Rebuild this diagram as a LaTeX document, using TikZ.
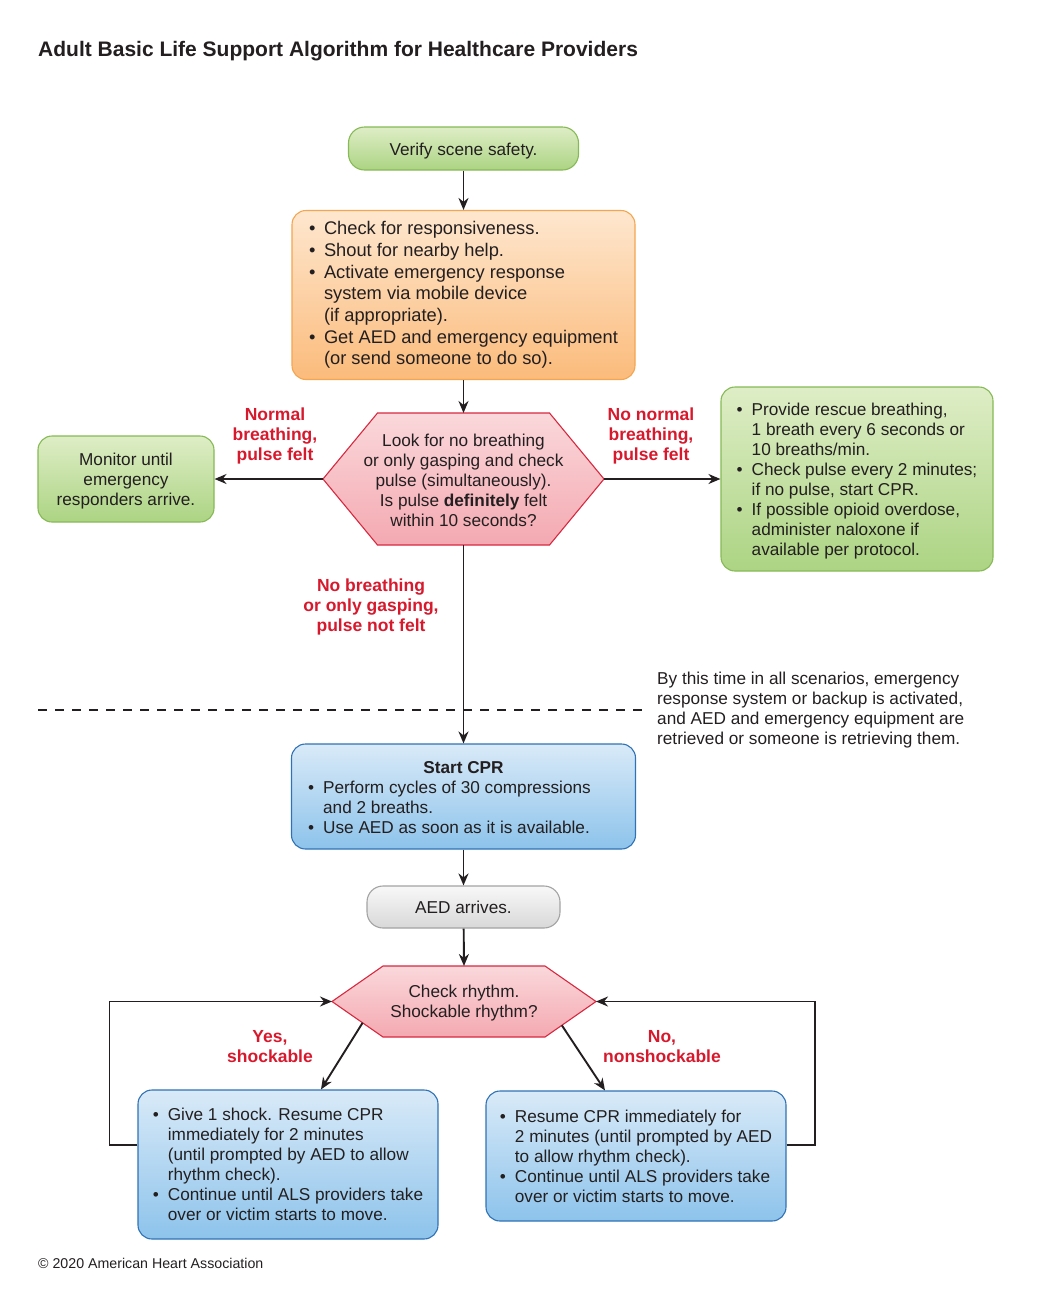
\documentclass[tikz,border=0pt]{standalone}
\usepackage{fontspec}
\setmainfont{Liberation Sans}
\usepackage{xcolor}
\usetikzlibrary{arrows.meta,calc,backgrounds}
\definecolor{ahatext}{HTML}{231F20}
\definecolor{ahared}{HTML}{D7192D}
\definecolor{ahagreentop}{HTML}{DEEDC6}
\definecolor{ahagreenbot}{HTML}{ACD483}
\definecolor{ahagreenline}{HTML}{86BA55}
\definecolor{ahaorangetop}{HTML}{FEE7CF}
\definecolor{ahaorangebot}{HTML}{FBBB7B}
\definecolor{ahaorangeline}{HTML}{F4A550}
\definecolor{ahapinktop}{HTML}{FAD8DB}
\definecolor{ahapinkbot}{HTML}{F4A9B1}
\definecolor{ahapinkline}{HTML}{D8283F}
\definecolor{ahabluetop}{HTML}{D9EAF8}
\definecolor{ahabluebot}{HTML}{8DC3EB}
\definecolor{ahablueline}{HTML}{2F72B6}
\definecolor{ahagreytop}{HTML}{F8F8F8}
\definecolor{ahagreybot}{HTML}{D8D8D8}
\definecolor{ahagreyline}{HTML}{A3A3A3}
\newcommand{\bodyfont}{\fontsize{17.2}{20}\selectfont}
\newcommand{\bitem}{\makebox[15pt][l]{\textbullet}}
\newcommand{\bcont}{\hspace*{15pt}}
\newcommand{\lowered}[2][2.5pt]{\raisebox{-#1}[\height][\depth]{#2}}

\begin{document}
\begin{tikzpicture}[x=1pt, y=-1pt,
    box/.style={draw, rounded corners=14pt, line width=1.1pt, text=ahatext,
                align=center, font=\bodyfont, inner sep=0pt},
    greenbox/.style={box, draw=ahagreenline, top color=ahagreentop, bottom color=ahagreenbot},
    orangebox/.style={box, draw=ahaorangeline, top color=ahaorangetop, bottom color=ahaorangebot},
    bluebox/.style={box, draw=ahablueline, top color=ahabluetop, bottom color=ahabluebot},
    greybox/.style={box, draw=ahagreyline, top color=ahagreytop, bottom color=ahagreybot},
    hextext/.style={text=ahatext, align=center, font=\bodyfont, inner sep=0pt},
    hexbox/.style={draw=ahapinkline, line width=1.1pt, top color=ahapinktop, bottom color=ahapinkbot},
    lbl/.style={text=ahared, align=center, font=\fontsize{17.5}{20}\selectfont\bfseries},
    arr/.style={-{Stealth[length=12pt,width=10pt]}, line width=1.9pt, draw=ahatext},
]
\useasboundingbox (0,0) rectangle (1038,1315);

\node[anchor=west, text=ahatext, inner sep=0pt, font=\fontsize{21}{25}\selectfont\bfseries] (title) at (38,51)
    {Adult Basic Life Support Algorithm for Healthcare Providers};

% top column
\node[greenbox, minimum width=230pt, minimum height=43pt, rounded corners=16pt] (verify) at (463.5,148.5)
    {\lowered{Verify scene safety.}};
\node[orangebox, minimum width=343pt, minimum height=169pt, align=left,
      font=\fontsize{18.3}{21.7}\selectfont] (checks) at (463.5,295)
    {\bitem Check for responsiveness.\\
     \bitem Shout for nearby help.\\
     \bitem Activate emergency response\\
     \bcont system via mobile device\\
     \bcont (if appropriate).\\
     \bitem Get AED and emergency equipment\\
     \bcont (or send someone to do so).};

\node[hextext] (look) at (463.5,480)
    {Look for no breathing\\or only gasping and check\\pulse (simultaneously).\\
     Is pulse \textbf{definitely} felt\\within 10 seconds?};
\coordinate (lookL) at ($(look.center)+(-140.5,-1)$);
\coordinate (lookR) at ($(look.center)+(140.5,-1)$);
\coordinate (lookT) at ($(look.center)+(0,-67)$);
\coordinate (lookB) at ($(look.center)+(0,65)$);
\begin{scope}[on background layer]
\draw[hexbox] ($(lookT)+(-86,0)$) -- ($(lookT)+(86,0)$) -- (lookR) -- ($(lookB)+(86,0)$)
    -- ($(lookB)+(-86,0)$) -- (lookL) -- cycle;
\end{scope}

% side branches
\node[greenbox, minimum width=176pt, minimum height=86pt] (monitor) at (126,479)
    {\lowered{\begin{tabular}{@{}c@{}}Monitor until\\emergency\\responders arrive.\end{tabular}}};
\node[greenbox, minimum width=272pt, minimum height=184pt] (rescue) at (857,479)
    {\lowered{\begin{tabular}{@{}l@{}}
     \bitem Provide rescue breathing,\\
     \bcont 1 breath every 6 seconds or\\
     \bcont 10 breaths/min.\\
     \bitem Check pulse every 2 minutes;\\
     \bcont if no pulse, start CPR.\\
     \bitem If possible opioid overdose,\\
     \bcont administer naloxone if\\
     \bcont available per protocol.
     \end{tabular}}};

\node[lbl] (normal) at (275,436) {Normal\\breathing,\\pulse felt};
\node[lbl] (nonormal) at (651,436) {No normal\\breathing,\\pulse felt};
\node[lbl] (nobreath) at (371,607) {No breathing\\or only gasping,\\pulse not felt};

\draw[dashed, line width=1.3pt, draw=ahatext, dash pattern=on 9pt off 8pt] (38,710) -- (645,710);
\node[anchor=west, text=ahatext, align=left, inner sep=0pt, font=\bodyfont] (note) at (657,710.5)
    {By this time in all scenarios, emergency\\response system or backup is activated,\\
     and AED and emergency equipment are\\retrieved or someone is retrieving them.};

% CPR and AED
\node[bluebox, minimum width=344pt, minimum height=105pt] (cpr) at (463.5,796.5)
    {\lowered[3pt]{\begin{tabular}{@{}l@{\hspace{28pt}}}
     \multicolumn{1}{@{}c@{}}{\textbf{Start CPR}}\\
     \bitem Perform cycles of 30 compressions\\
     \bcont and 2 breaths.\\
     \bitem Use AED as soon as it is available.
     \end{tabular}}};
\node[greybox, minimum width=193pt, minimum height=42pt, rounded corners=16pt] (aed) at (463.5,907)
    {AED arrives.};

\node[hextext] (rhythm) at (464,1003)
    {Check rhythm.\\Shockable rhythm?};
\coordinate (rhythmL) at ($(rhythm.center)+(-132,-1.5)$);
\coordinate (rhythmR) at ($(rhythm.center)+(132,-1.5)$);
\coordinate (rhythmT) at ($(rhythm.center)+(0,-37)$);
\coordinate (rhythmB) at ($(rhythm.center)+(0,34)$);
\begin{scope}[on background layer]
\draw[hexbox] ($(rhythmT)+(-81,0)$) -- ($(rhythmT)+(81,0)$) -- (rhythmR) -- ($(rhythmB)+(81,0)$)
    -- ($(rhythmB)+(-81,0)$) -- (rhythmL) -- cycle;
\end{scope}

\node[bluebox, minimum width=300pt, minimum height=149pt, align=left] (shock) at (288,1164.5)
    {\bitem Give 1 shock. Resume CPR\\
     \bcont immediately for 2 minutes\\
     \bcont (until prompted by AED to allow\\
     \bcont rhythm check).\\
     \bitem Continue until ALS providers take\\
     \bcont over or victim starts to move.};
\node[bluebox, minimum width=300pt, minimum height=130pt, align=left] (noshock) at (636,1156)
    {\bitem Resume CPR immediately for\\
     \bcont 2 minutes (until prompted by AED\\
     \bcont to allow rhythm check).\\
     \bitem Continue until ALS providers take\\
     \bcont over or victim starts to move.};

\node[lbl] (yes) at (270,1047) {Yes,\\shockable};
\node[lbl] (no) at (662,1046.5) {No,\\nonshockable};

\node[anchor=west, text=ahatext, inner sep=0pt, font=\fontsize{14.2}{17}\selectfont] (copy) at (38,1263)
    {\textcopyright\ 2020 American Heart Association};

% connectors
\draw[arr] (verify) -- (checks);
\draw[arr] (checks) -- (lookT);
\draw[arr] (lookL) -- (monitor.east);
\draw[arr] (lookR) -- (rescue.west);
\draw[arr] (lookB) -- (cpr.north);
\draw[arr] (cpr) -- (aed);
\draw[arr] (aed) -- (rhythmT);
\draw[arr] ($(rhythmL)!0.6!($(rhythmB)+(-81,0)$)$) -- ([xshift=33pt]shock.north);
\draw[arr] ($(rhythmR)!0.67!($(rhythmB)+(81,0)$)$) -- ([xshift=-31pt]noshock.north);
\draw[arr] ([yshift=19.5pt]shock.west) -- ++(-28,0) |- (rhythmL);
\draw[arr] ([yshift=11pt]noshock.east) -- ++(28,0) |- (rhythmR);
\end{tikzpicture}
\end{document}
